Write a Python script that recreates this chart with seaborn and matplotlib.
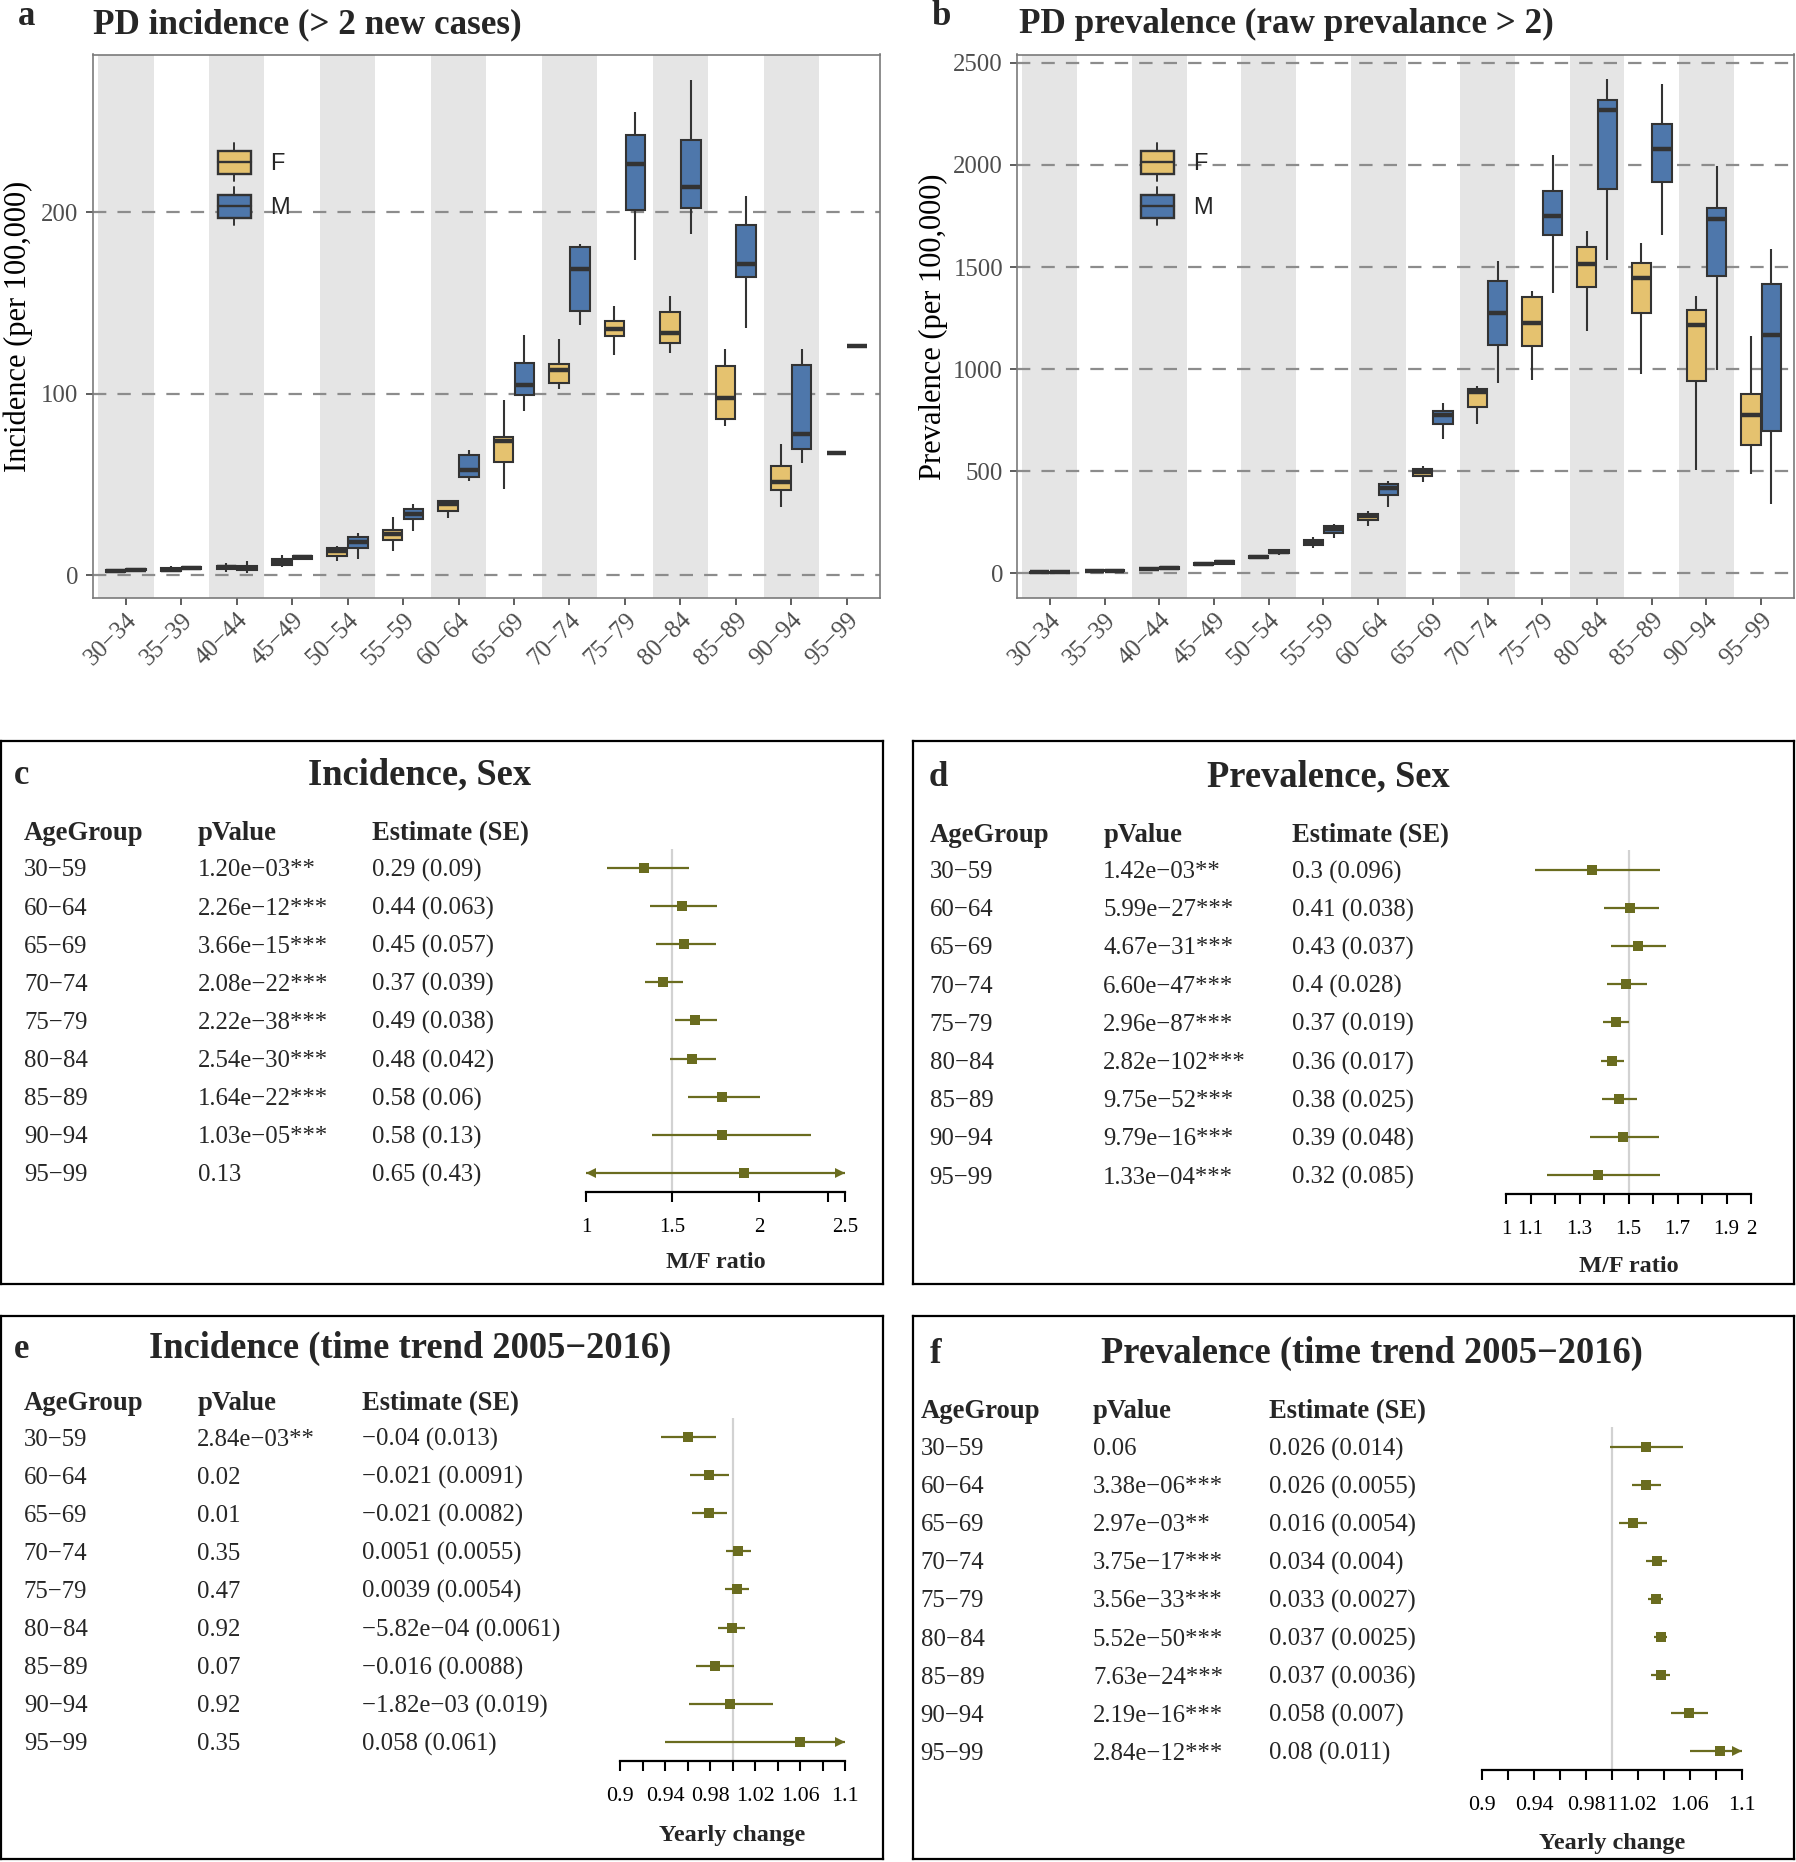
import numpy as np
import pandas as pd
import matplotlib
matplotlib.use("Agg")
import matplotlib.pyplot as plt
import seaborn as sns
from matplotlib.legend_handler import HandlerBase
from matplotlib.patches import Rectangle, Patch
from matplotlib.lines import Line2D
from matplotlib.transforms import offset_copy

# ---------------------------------------------------------------- data
AGES = ["30−34", "35−39", "40−44", "45−49", "50−54", "55−59", "60−64",
        "65−69", "70−74", "75−79", "80−84", "85−89", "90−94", "95−99"]
SEXES = ["F", "M"]

# five-number summaries [low whisker, Q1, median, Q3, high whisker]
inc_F = [[1.2, 1.8, 2.3, 2.8, 3.4], [2.0, 2.6, 3.2, 3.8, 5.0], [2.0, 3.6, 4.4, 5.4, 7.0],
         [4.5, 5.7, 7.5, 9.0, 11.2], [7.7, 10.6, 13.2, 14.9, 16.3], [13.2, 19.6, 22.8, 25.1, 32.0],
         [31.6, 35.4, 39.1, 40.7, 41.0], [47.3, 62.5, 73.9, 76.4, 96.5], [102.9, 106.1, 113.0, 116.7, 130.3],
         [121.2, 131.8, 136.0, 140.3, 148.3], [122.6, 128.1, 133.6, 145.0, 153.8], [82.1, 86.2, 97.6, 115.5, 124.8],
         [37.7, 46.8, 51.5, 60.5, 72.3], [67.2, 67.2, 67.2, 67.2, 67.2]]
inc_M = [[2.2, 2.7, 3.2, 3.7, 4.0], [2.8, 3.3, 3.9, 4.5, 5.2], [1.5, 3.2, 4.3, 5.3, 8.0],
         [8.8, 9.2, 10.0, 10.8, 11.2], [9.2, 15.3, 18.3, 21.2, 23.2], [24.2, 30.8, 33.6, 36.7, 39.1],
         [51.9, 54.0, 58.0, 66.4, 69.2], [90.6, 99.2, 104.9, 117.1, 132.4], [137.7, 145.8, 168.6, 180.9, 182.3],
         [173.7, 201.2, 226.7, 242.6, 255.2], [188.0, 202.4, 213.8, 239.7, 272.9], [136.3, 164.2, 171.3, 193.3, 209.2],
         [62.1, 69.7, 77.8, 116.1, 124.6], [126.5, 126.5, 126.5, 126.5, 126.5]]
prev_F = [[2, 3, 4, 5, 6], [7, 9, 10, 11, 13], [16, 19, 21, 23, 26], [36, 41, 46, 50, 55],
          [68, 73, 79, 85, 91], [122, 140, 151, 162, 176], [234, 263, 281, 292, 303],
          [448, 476, 496, 510, 525], [729, 816, 886, 903, 918], [945, 1114, 1224, 1351, 1384],
          [1188, 1400, 1516, 1597, 1675], [974, 1274, 1447, 1520, 1619], [505, 940, 1215, 1290, 1357],
          [487, 627, 774, 879, 1160]]
prev_M = [[3, 4, 5, 6, 8], [8, 10, 12, 14, 16], [19, 23, 26, 29, 32], [42, 46, 53, 58, 62],
          [92, 97, 105, 112, 116], [172, 198, 216, 231, 243], [325, 385, 416, 436, 452],
          [656, 732, 775, 796, 833], [930, 1116, 1276, 1430, 1532], [1371, 1658, 1750, 1874, 2047],
          [1534, 1881, 2267, 2317, 2420], [1655, 1918, 2077, 2199, 2398], [994, 1454, 1736, 1790, 1996],
          [340, 698, 1165, 1415, 1587]]

FOREST_GROUPS = ["30−59", "60−64", "65−69", "70−74", "75−79", "80−84", "85−89", "90−94", "95−99"]

c_est = [0.29, 0.44, 0.45, 0.37, 0.49, 0.48, 0.58, 0.58, 0.65]
c_se = [0.09, 0.063, 0.057, 0.039, 0.038, 0.042, 0.06, 0.13, 0.43]
c_p = ["1.20e−03**", "2.26e−12***", "3.66e−15***", "2.08e−22***", "2.22e−38***",
       "2.54e−30***", "1.64e−22***", "1.03e−05***", "0.13"]
c_txt = ["0.29 (0.09)", "0.44 (0.063)", "0.45 (0.057)", "0.37 (0.039)", "0.49 (0.038)",
         "0.48 (0.042)", "0.58 (0.06)", "0.58 (0.13)", "0.65 (0.43)"]

d_est = [0.3, 0.41, 0.43, 0.4, 0.37, 0.36, 0.38, 0.39, 0.32]
d_se = [0.096, 0.038, 0.037, 0.028, 0.019, 0.017, 0.025, 0.048, 0.085]
d_p = ["1.42e−03**", "5.99e−27***", "4.67e−31***", "6.60e−47***", "2.96e−87***",
       "2.82e−102***", "9.75e−52***", "9.79e−16***", "1.33e−04***"]
d_txt = ["0.3 (0.096)", "0.41 (0.038)", "0.43 (0.037)", "0.4 (0.028)", "0.37 (0.019)",
         "0.36 (0.017)", "0.38 (0.025)", "0.39 (0.048)", "0.32 (0.085)"]

e_est = [-0.04, -0.021, -0.021, 0.0051, 0.0039, -5.82e-4, -0.016, -1.82e-3, 0.058]
e_se = [0.013, 0.0091, 0.0082, 0.0055, 0.0054, 0.0061, 0.0088, 0.019, 0.061]
e_p = ["2.84e−03**", "0.02", "0.01", "0.35", "0.47", "0.92", "0.07", "0.92", "0.35"]
e_txt = ["−0.04 (0.013)", "−0.021 (0.0091)", "−0.021 (0.0082)", "0.0051 (0.0055)",
         "0.0039 (0.0054)", "−5.82e−04 (0.0061)", "−0.016 (0.0088)", "−1.82e−03 (0.019)",
         "0.058 (0.061)"]

f_est = [0.026, 0.026, 0.016, 0.034, 0.033, 0.037, 0.037, 0.058, 0.08]
f_se = [0.014, 0.0055, 0.0054, 0.004, 0.0027, 0.0025, 0.0036, 0.007, 0.011]
f_p = ["0.06", "3.38e−06***", "2.97e−03**", "3.75e−17***", "3.56e−33***",
       "5.52e−50***", "7.63e−24***", "2.19e−16***", "2.84e−12***"]
f_txt = ["0.026 (0.014)", "0.026 (0.0055)", "0.016 (0.0054)", "0.034 (0.004)",
         "0.033 (0.0027)", "0.037 (0.0025)", "0.037 (0.0036)", "0.058 (0.007)", "0.08 (0.011)"]

c_ticks = [1, 1.5, 2, 2.4, 2.5]
c_ticklabels = ["1", "1.5", "2", "", "2.5"]
d_ticks = [1.0, 1.1, 1.2, 1.3, 1.4, 1.5, 1.6, 1.7, 1.8, 1.9, 2.0]
d_ticklabels = ["1", "1.1", "", "1.3", "", "1.5", "", "1.7", "", "1.9", "2"]
ef_ticks = [0.9, 0.92, 0.94, 0.96, 0.98, 1.0, 1.02, 1.04, 1.06, 1.08, 1.1]
e_ticklabels = ["0.9", "", "0.94", "", "0.98", "", "1.02", "", "1.06", "", "1.1"]
f_ticklabels = ["0.9", "", "0.94", "", "0.98", "1", "1.02", "", "1.06", "", "1.1"]

# ---------------------------------------------------------------- style
sns.set_theme(style="white")
plt.rcParams["font.family"] = ["Liberation Serif", "DejaVu Serif"]
plt.rcParams["axes.unicode_minus"] = True

F_COLOR = "#E5C26F"
M_COLOR = "#4E77AB"
EDGE = "#333333"
BAND = "#E5E5E5"
GRID = "#8C8C8C"
OLIVE = "#6A6C1F"
REFC = "#D2D2D2"

W, H = 1796, 1862
fig = plt.figure(figsize=(W / 100, H / 100), dpi=100)
fig.patch.set_facecolor("white")


def add_ax(l, t, r, b):
    return fig.add_axes([l / W, 1 - b / H, (r - l) / W, (b - t) / H])


def ftext(x, y, s, **kw):
    return fig.text(x / W, 1 - y / H, s, **kw)


class BoxHandler(HandlerBase):
    def create_artists(self, legend, orig_handle, xdescent, ydescent,
                       width, height, fontsize, trans):
        fc = orig_handle.get_facecolor()
        x0, y0 = -xdescent, -ydescent
        bh = height * 0.61
        by = y0 + (height - bh) / 2
        cx = x0 + width / 2
        return [
            Line2D([cx, cx], [y0, by], color=EDGE, lw=1.4, transform=trans),
            Line2D([cx, cx], [by + bh, y0 + height], color=EDGE, lw=1.4, transform=trans),
            Rectangle((x0, by), width, bh, facecolor=fc, edgecolor=EDGE, lw=1.7, transform=trans),
            Line2D([x0, x0 + width], [by + bh / 2] * 2, color=EDGE, lw=1.7, transform=trans),
        ]


def box_panel(ax, fstats, mstats, ylim, yticks, ylabel, label_x):
    rows = []
    for age, fs, ms in zip(AGES, fstats, mstats):
        rows += [(age, "F", v) for v in fs]
        rows += [(age, "M", v) for v in ms]
    df = pd.DataFrame(rows, columns=["age", "sex", "value"])
    for i in range(0, len(AGES), 2):
        ax.axvspan(i - 0.5, i + 0.5, color=BAND, lw=0, zorder=0)
    for y in yticks:
        ax.axhline(y, color=GRID, lw=1.6, ls=(0, (6, 5)), zorder=0.6)
    sns.boxplot(data=df, x="age", y="value", hue="sex", order=AGES, hue_order=SEXES,
                palette={"F": F_COLOR, "M": M_COLOR}, saturation=1, width=0.75, gap=0.06,
                whis=(0, 100), showcaps=False, showfliers=False, linewidth=1.5,
                linecolor=EDGE, medianprops=dict(linewidth=3.2, color=EDGE),
                legend=False, ax=ax)
    ax.set_xlim(-0.6, len(AGES) - 0.4)
    ax.set_ylim(*ylim)
    ax.set_yticks(yticks)
    ax.set_yticklabels([str(t) for t in yticks])
    ax.set_xticks(range(len(AGES)))
    ax.set_xticklabels(AGES, rotation=45, ha="right", va="top", rotation_mode="anchor")
    ax.tick_params(axis="both", which="both", labelsize=17.8, labelcolor="#4D4D4D",
                   color=EDGE, length=5, width=1.1, direction="out", left=True, bottom=True)
    ax.tick_params(axis="x", pad=3)
    ax.tick_params(axis="y", pad=5)
    ax.set_xlabel("")
    ax.set_ylabel(ylabel, fontsize=22, color="black")
    ax.yaxis.set_label_coords(label_x, 0.5)
    for sp in ax.spines.values():
        sp.set_visible(True)
        sp.set_color("#7A7A7A")
        sp.set_linewidth(1.2)
    ax.legend(handles=[Patch(facecolor=F_COLOR), Patch(facecolor=M_COLOR)], labels=SEXES,
              handler_map={Patch: BoxHandler()}, loc="upper left",
              bbox_to_anchor=(0.159, 0.837), frameon=False, borderpad=0, borderaxespad=0,
              handlelength=1.42, handleheight=2.1, labelspacing=0.26, handletextpad=0.8,
              prop={"family": "Liberation Sans", "size": 17})


# ---------------------------------------------------------------- panel a / b
ax_a = add_ax(92.5, 54.5, 880, 598)
box_panel(ax_a, inc_F, inc_M, (-12.5, 287), [0, 100, 200], "Incidence (per 100,000)", -0.075)
ax_b = add_ax(1017, 54.5, 1794, 598)
box_panel(ax_b, prev_F, prev_M, (-121, 2541), [0, 500, 1000, 1500, 2000, 2500],
          "Prevalence (per 100,000)", -0.089)

ftext(18, 25, "a", fontsize=25, fontweight="bold", va="baseline", ha="left")
ftext(93, 33, "PD incidence (> 2 new cases)", fontsize=25.3, fontweight="bold",
      va="baseline", ha="left")
ftext(932, 25, "b", fontsize=25, fontweight="bold", va="baseline", ha="left")
ftext(1019, 33, "PD prevalence (raw prevalance > 2)", fontsize=25.3, fontweight="bold",
      va="baseline", ha="left")


# ---------------------------------------------------------------- forest panels
def border(l, t, r, b):
    ax = add_ax(l, t, r, b)
    ax.set_xticks([])
    ax.set_yticks([])
    ax.set_facecolor("none")
    for sp in ax.spines.values():
        sp.set_visible(True)
        sp.set_color("black")
        sp.set_linewidth(1.6)
    return ax


def forest_panel(box, letter, letter_x, title, title_cx, title_y,
                 col_x, header_y, row0, spacing,
                 axl, axr, est, se, pvals, txts, xlim, ticks, ticklabels, ref,
                 ticksize, xlabel, xlabel_y):
    border(*box)
    ftext(letter_x, title_y, letter, fontsize=25, fontweight="bold", va="baseline", ha="left")
    ftext(title_cx, title_y, title, fontsize=26.3, fontweight="bold", va="baseline", ha="center")
    for x, h in zip(col_x, ["AgeGroup", "pValue", "Estimate (SE)"]):
        ftext(x, header_y + 2.5, h, fontsize=19.2, fontweight="bold", va="center", ha="left")
    for i, (g, p, t) in enumerate(zip(FOREST_GROUPS, pvals, txts)):
        y = row0 + i * spacing + 2.5
        ftext(col_x[0], y, g, fontsize=17.8, va="center", ha="left")
        ftext(col_x[1], y, p, fontsize=17.8, va="center", ha="left")
        ftext(col_x[2], y, t, fontsize=17.8, va="center", ha="left")

    n = len(est)
    top = row0 - spacing / 2
    bot = row0 + (n - 0.5) * spacing
    ax = add_ax(axl, top, axr, bot)
    ax.set_facecolor("none")
    est = np.asarray(est)
    se = np.asarray(se)
    rows = np.arange(n)
    mid = np.exp(est)
    lo = np.exp(est - 1.96 * se)
    hi = np.exp(est + 1.96 * se)
    ax.axvline(ref, color=REFC, lw=1.6, zorder=0)
    ax.hlines(rows, np.clip(lo, *xlim), np.clip(hi, *xlim), color=OLIVE, lw=1.6, zorder=2)
    ms = 7
    for i in rows:
        if lo[i] < xlim[0]:
            tr = offset_copy(ax.transData, fig=fig, x=ms / 2, units="points")
            ax.plot([xlim[0]], [i], marker="<", ms=ms, color=OLIVE, transform=tr,
                    clip_on=False, zorder=3, mew=0)
        if hi[i] > xlim[1]:
            tr = offset_copy(ax.transData, fig=fig, x=-ms / 2, units="points")
            ax.plot([xlim[1]], [i], marker=">", ms=ms, color=OLIVE, transform=tr,
                    clip_on=False, zorder=3, mew=0)
    sns.scatterplot(x=mid, y=rows, marker="s", s=60, color=OLIVE, linewidth=0,
                    ax=ax, zorder=4, legend=False)
    ax.set_xlim(*xlim)
    ax.set_ylim(n - 0.5, -0.5)
    ax.set_yticks([])
    ax.set_xticks(ticks)
    ax.set_xticklabels(ticklabels)
    ax.tick_params(axis="x", direction="out", length=7.2, width=1.5, color="black",
                   labelsize=ticksize, labelcolor="black", pad=11.5, bottom=True)
    for k, sp in ax.spines.items():
        sp.set_visible(k == "bottom")
    ax.spines["bottom"].set_color("black")
    ax.spines["bottom"].set_linewidth(1.6)
    ftext((axl + axr) / 2, xlabel_y + 2, xlabel, fontsize=17.5, fontweight="bold",
          va="center", ha="center")
    return ax


forest_panel((1.4, 740.7, 882.7, 1284), "c", 14, "Incidence, Sex", 419.5, 784,
             [24, 197.6, 372], 831, 868.0, 38.1, 586, 845.3,
             c_est, c_se, c_p, c_txt, (1, 2.5), c_ticks, c_ticklabels, 1.5, 15,
             "M/F ratio", 1260)
forest_panel((912.7, 740.7, 1794, 1284), "d", 929, "Prevalence, Sex", 1328, 786,
             [929.7, 1103.2, 1292.2], 833.3, 869.5, 38.2, 1506, 1751,
             d_est, d_se, d_p, d_txt, (1, 2), d_ticks, d_ticklabels, 1.5, 15,
             "M/F ratio", 1264)
forest_panel((1.4, 1316, 882.7, 1859), "e", 14, "Incidence (time trend 2005−2016)", 410, 1358,
             [23.8, 197.2, 362.3], 1400.7, 1437.0, 38.1, 620, 845,
             e_est, e_se, e_p, e_txt, (0.9, 1.1), ef_ticks, e_ticklabels, 1.0, 15.8,
             "Yearly change", 1833)
forest_panel((912.7, 1316, 1794, 1859), "f", 930, "Prevalence (time trend 2005−2016)", 1371.6, 1363,
             [920.7, 1093, 1268.8], 1409, 1446.5, 38.1, 1482.3, 1741.7,
             f_est, f_se, f_p, f_txt, (0.9, 1.1), ef_ticks, f_ticklabels, 1.0, 15.8,
             "Yearly change", 1841.7)

fig.savefig("out.png", dpi=100, facecolor="white")
